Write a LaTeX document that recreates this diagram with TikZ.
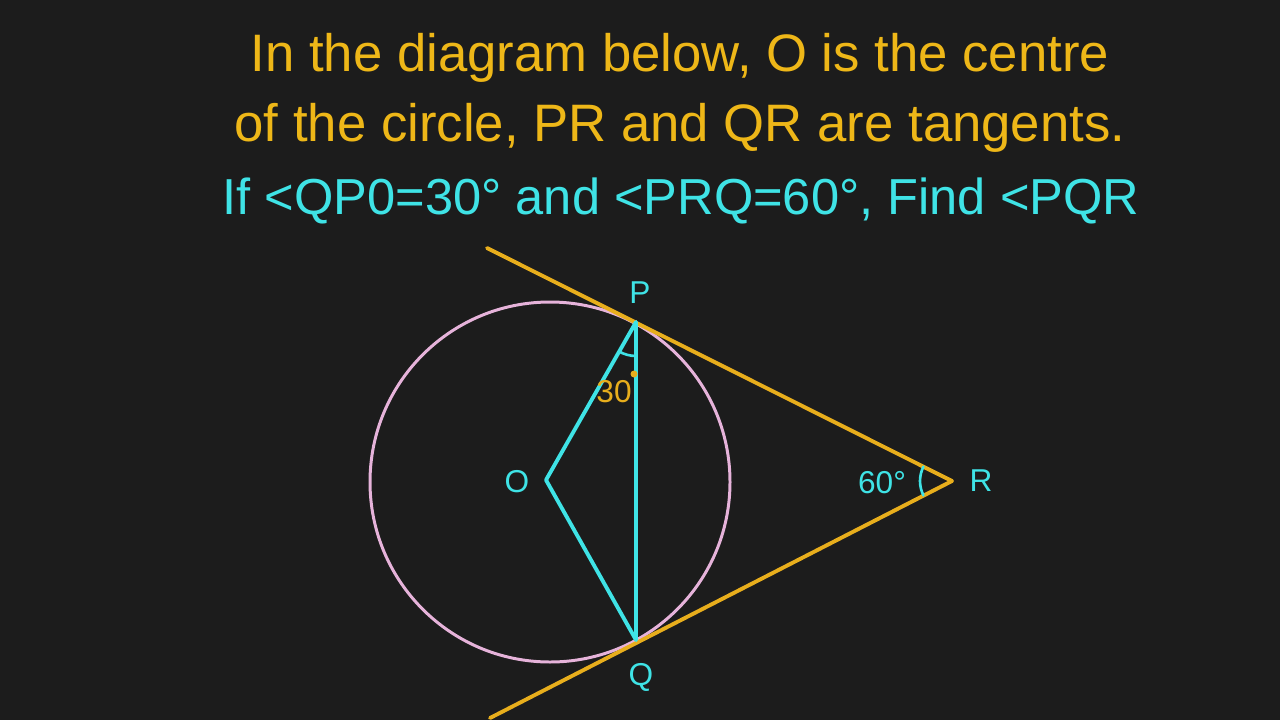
\documentclass[tikz,border=0pt]{standalone}
\usepackage{fontspec}
\setmainfont{Liberation Sans}
\usetikzlibrary{angles}
\definecolor{bgc}{HTML}{1C1C1C}
\definecolor{titley}{HTML}{EEB718}
\definecolor{cyn}{HTML}{3FE3E6}
\definecolor{pnk}{HTML}{E6B3DA}
\definecolor{tang}{HTML}{E8AE1C}
\begin{document}
\begin{tikzpicture}[x=0.02cm,y=-0.02cm,line cap=round,line join=round,
    title/.style={anchor=base,font=\fontsize{30}{36}\selectfont},
    lbl/.style={cyn,font=\fontsize{18}{20}\selectfont},
    thick line/.style={line width=2.2pt}]
    \fill[bgc] (0,0) rectangle (1280,720);
    % question text
    \node[title,titley] (t1) at (680,71) {In the diagram below, O is the centre};
    \node[title,titley] (t2) at (680,141) {of the circle, PR and QR are tangents.};
    \node[title,cyn,font=\fontsize{28.8}{36}\selectfont] (t3) at (681,214) {If <QP0=30° and <PRQ=60°, Find <PQR};
    % points
    \coordinate (C) at (550,482);
    \coordinate (O) at (546,480);
    \coordinate (P) at (636,322);
    \coordinate (Q) at (636,640);
    \coordinate (R) at (952,481);
    \coordinate (A) at (487,248);
    \coordinate (B) at (490,718);
    \draw[pnk,line width=1.7pt] (C) circle (180);
    \draw[tang,thick line] (A) -- (R) -- (B);
    \draw[cyn,thick line] (P) -- (O) -- (Q) -- cycle;
    % angles
    \pic[draw=cyn,line width=1.5pt,angle radius=0.68cm] {angle=O--P--Q};
    \pic[draw=cyn,line width=1.5pt,angle radius=0.64cm] {angle=P--R--Q};
    \fill[tang] (634,374) circle (3.5);
    % labels
    \node[lbl] (lp) at (640,293) {P};
    \node[lbl] (lo) at (517,482) {O};
    \node[lbl] (lq) at (641,677) {Q};
    \node[lbl] (lr) at (981,481) {R};
    \node[lbl] (l60) at (882,483) {60°};
    \node[lbl,tang] (l30) at (614,392) {30};
\end{tikzpicture}
\end{document}
